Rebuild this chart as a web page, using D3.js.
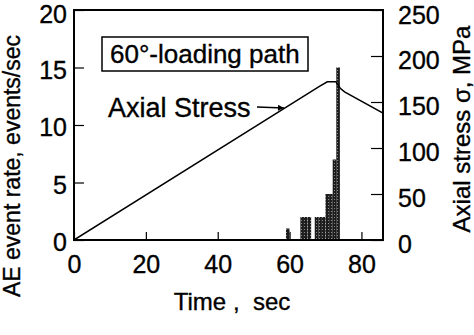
<!DOCTYPE html>
<html>
<head>
<meta charset="utf-8">
<script src="https://cdn.jsdelivr.net/npm/d3@7/dist/d3.min.js"></script>
<style>
  html, body { margin: 0; padding: 0; background: #fff; }
  svg { display: block; font-family: "Liberation Sans", Arial, sans-serif; }
  text { fill: #000; stroke: #000; stroke-width: 0.35px; }
</style>
</head>
<body>
<svg id="chart" width="474" height="335"></svg>
<script>
// AE event rate histogram (1-second bins) and axial stress history
const timeTicks = [0, 20, 40, 60, 80];
const rateTicks = [0, 5, 10, 15, 20];
const stressTicks = [0, 50, 100, 150, 200, 250];

const binStart = [59, 63, 64, 65, 67, 68, 69, 70, 71, 72, 73];
const eventRate = [1, 2, 2, 2, 2, 2, 2, 4, 4, 7, 15];

const stressTime = [0, 68.3, 70.5, 72.9, 74.1, 75.3, 86];
const stressValue = [0, 167, 172, 172, 165, 161, 138];

const svg = d3.select("#chart");
const L = 74, R = 383, T = 10, B = 240;

const x = d3.scaleLinear().domain([0, 86]).range([L, R]);
const yL = d3.scaleLinear().domain([0, 20]).range([B, T]);
const yR = d3.scaleLinear().domain([0, 250]).range([B, T]);

// dotted texture for the histogram bars
const defs = svg.append("defs");
const pat = defs.append("pattern").attr("id", "dots")
  .attr("width", 3).attr("height", 3).attr("patternUnits", "userSpaceOnUse");
pat.append("rect").attr("width", 3).attr("height", 3).attr("fill", "#1c1c1c");
pat.append("rect").attr("x", 1).attr("y", 1).attr("width", 1).attr("height", 1).attr("fill", "#8a8a8a");

defs.append("clipPath").attr("id", "plot")
  .append("rect").attr("x", L).attr("y", T).attr("width", R - L).attr("height", B - T);

defs.append("marker").attr("id", "arrow")
  .attr("viewBox", "0 0 10 10").attr("refX", 10).attr("refY", 5)
  .attr("markerWidth", 9).attr("markerHeight", 6).attr("markerUnits", "userSpaceOnUse")
  .attr("orient", "auto")
  .append("path").attr("d", "M0,0 L10,5 L0,10 Z").attr("fill", "#000");

// bars
svg.append("g").attr("clip-path", "url(#plot)")
  .selectAll("rect").data(binStart.map((t, i) => ({ t, v: eventRate[i] })))
  .join("rect")
  .attr("x", d => x(d.t))
  .attr("width", d => x(d.t + 1) - x(d.t))
  .attr("y", d => yL(d.v))
  .attr("height", d => yL(0) - yL(d.v))
  .attr("fill", "url(#dots)");

// stress curve
const line = d3.line().x(d => x(d[0])).y(d => yR(d[1]));
svg.append("path")
  .attr("clip-path", "url(#plot)")
  .datum(stressTime.map((t, i) => [t, stressValue[i]]))
  .attr("d", line)
  .attr("fill", "none").attr("stroke", "#000").attr("stroke-width", 1.5);

// axes with inward ticks
const fontSize = 25;
const gL = svg.append("g").attr("transform", `translate(${L},0)`)
  .call(d3.axisLeft(yL).tickValues(rateTicks).tickSize(-10).tickPadding(7).tickFormat(d3.format("d")));
const gR = svg.append("g").attr("transform", `translate(${R},0)`)
  .call(d3.axisRight(yR).tickValues(stressTicks).tickSize(-12).tickPadding(15).tickFormat(d3.format("d")));
const gB = svg.append("g").attr("transform", `translate(0,${B})`)
  .call(d3.axisBottom(x).tickValues(timeTicks).tickSize(-8).tickPadding(15).tickFormat(d3.format("d")));

[gL, gR, gB].forEach(g => {
  g.select(".domain").remove();
  g.selectAll(".tick line").attr("stroke", "#000").attr("stroke-width", 1.2);
  g.selectAll(".tick text").attr("font-size", fontSize).attr("fill", "#000")
    .attr("font-family", "Liberation Sans, Arial, sans-serif");
});
gL.selectAll(".tick text").attr("dy", d => d === 20 ? "0.48em" : "0.42em");
gR.selectAll(".tick text").attr("dy", d => d === 250 ? "0.55em" : "0.5em");

// frame
svg.append("rect").attr("x", L).attr("y", T).attr("width", R - L).attr("height", B - T)
  .attr("fill", "none").attr("stroke", "#000").attr("stroke-width", 2);

// axis titles
svg.append("text").attr("x", 232).attr("y", 310).attr("text-anchor", "middle")
  .attr("font-size", 24).attr("xml:space", "preserve").text("Time ,  sec");
svg.append("text").attr("transform", "translate(20,166) rotate(-90)")
  .attr("text-anchor", "middle").attr("font-size", 23).text("AE event rate, events/sec");
svg.append("text").attr("transform", "translate(470,129) rotate(-90)")
  .attr("text-anchor", "middle").attr("font-size", 24).text("Axial stress σ, MPa");

// annotation box and label
svg.append("rect").attr("x", 102).attr("y", 37).attr("width", 206).attr("height", 34)
  .attr("fill", "#fff").attr("stroke", "#000").attr("stroke-width", 1.5);
svg.append("text").attr("x", 110).attr("y", 63).attr("font-size", 26).text("60°-loading path");

svg.append("text").attr("x", 108).attr("y", 117).attr("font-size", 27).text("Axial Stress");
svg.append("line").attr("x1", 257).attr("y1", 107).attr("x2", 284).attr("y2", 108)
  .attr("stroke", "#000").attr("stroke-width", 1.3).attr("marker-end", "url(#arrow)");
</script>
</body>
</html>
